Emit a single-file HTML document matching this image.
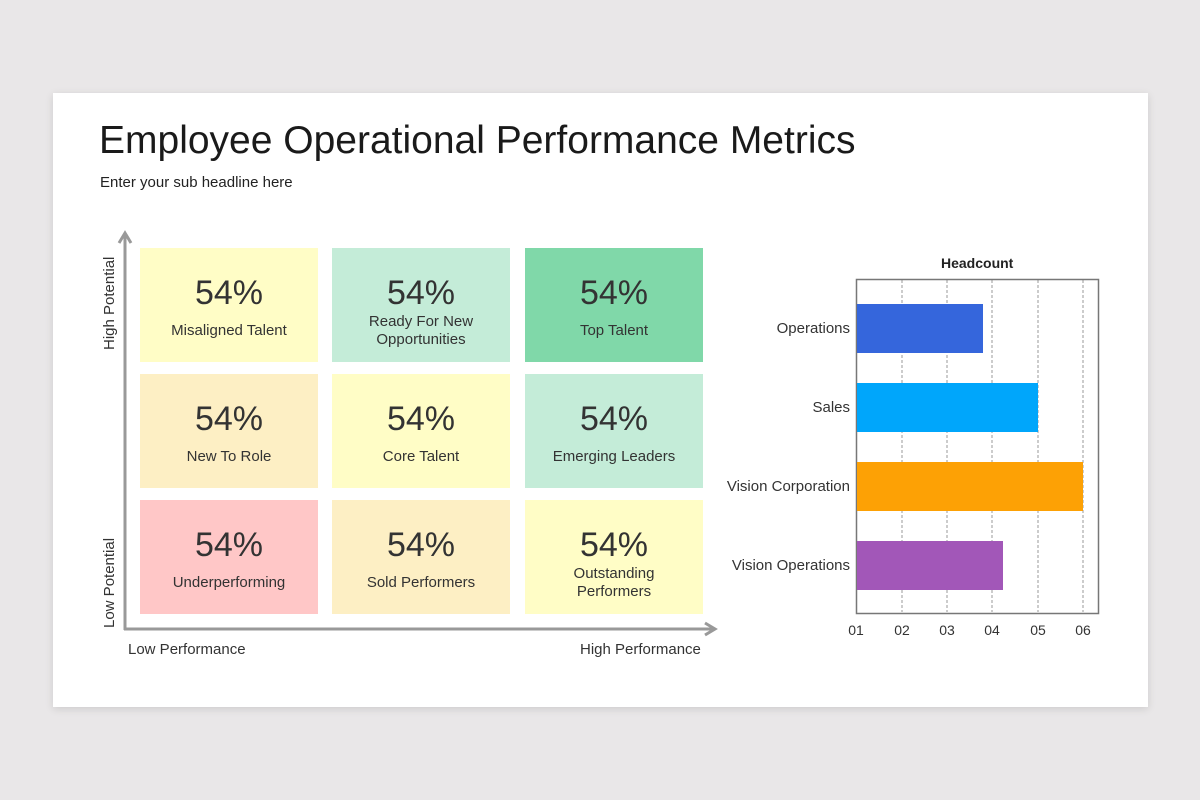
<!DOCTYPE html>
<html><head><style>
body{margin:0;width:1200px;height:800px;background:#e9e7e8;font-family:"Liberation Sans",sans-serif;position:relative;overflow:hidden}
.card{position:absolute;left:53px;top:93px;width:1095px;height:614px;background:#fff;box-shadow:0 2px 8px rgba(0,0,0,.12)}
.t{position:absolute;white-space:nowrap;color:#222}
.cell{position:absolute;width:178px;height:114px;text-align:center;color:#333}
.cell .p{position:absolute;top:27px;left:0;right:0;font-size:34px;line-height:36px}
.cell .l{position:absolute;top:74px;left:0;right:0;font-size:15px;line-height:18px}
.cell .l2{top:65px}
.lab{position:absolute;font-size:15px;color:#333;text-align:right;width:140px;white-space:nowrap}
.tick{position:absolute;top:622px;font-size:14px;color:#333;width:30px;text-align:center}
</style></head><body>
<div class="card"></div>
<div class="t" style="left:99px;top:119px;font-size:39px;color:#1a1a1a">Employee Operational Performance Metrics</div>
<div class="t" style="left:100px;top:174px;font-size:15px">Enter your sub headline here</div>

<svg style="position:absolute;left:0;top:0" width="1200" height="800">
<line x1="125" y1="236" x2="125" y2="630" stroke="#999" stroke-width="3"/>
<polyline points="119,243 125,233 131,243" fill="none" stroke="#999" stroke-width="3"/>
<line x1="124" y1="629" x2="714" y2="629" stroke="#999" stroke-width="3"/>
<polyline points="705,623 715,629 705,635" fill="none" stroke="#999" stroke-width="3"/>
<g stroke="#999" stroke-dasharray="3,2" stroke-width="1">
<line x1="902" y1="280" x2="902" y2="612"/><line x1="947" y1="280" x2="947" y2="612"/>
<line x1="992" y1="280" x2="992" y2="612"/><line x1="1038" y1="280" x2="1038" y2="612"/>
<line x1="1083" y1="280" x2="1083" y2="612"/></g>
<rect x="856.5" y="279.5" width="242" height="334" fill="none" stroke="#777" stroke-width="1.5"/>
<rect x="857" y="304" width="126" height="49" fill="#3566dc"/>
<rect x="857" y="383" width="181" height="49" fill="#00a6fb"/>
<rect x="857" y="462" width="226" height="49" fill="#fda105"/>
<rect x="857" y="541" width="146" height="49" fill="#a257b8"/>
<text x="114" y="350" transform="rotate(-90 114 350)" font-family="Liberation Sans" font-size="15" fill="#333">High Potential</text>
<text x="114" y="628" transform="rotate(-90 114 628)" font-family="Liberation Sans" font-size="15" fill="#333">Low Potential</text>
</svg>

<div class="cell" style="left:140px;top:248px;background:#fffdc6"><div class="p">54%</div><div class="l">Misaligned Talent</div></div>
<div class="cell" style="left:332px;top:248px;background:#c4ecd8"><div class="p">54%</div><div class="l l2">Ready For New<br>Opportunities</div></div>
<div class="cell" style="left:525px;top:248px;background:#80d8a9"><div class="p">54%</div><div class="l">Top Talent</div></div>
<div class="cell" style="left:140px;top:374px;background:#fdefc4"><div class="p">54%</div><div class="l">New To Role</div></div>
<div class="cell" style="left:332px;top:374px;background:#fffdc6"><div class="p">54%</div><div class="l">Core Talent</div></div>
<div class="cell" style="left:525px;top:374px;background:#c4ecd8"><div class="p">54%</div><div class="l">Emerging Leaders</div></div>
<div class="cell" style="left:140px;top:500px;background:#ffc7c7"><div class="p">54%</div><div class="l">Underperforming</div></div>
<div class="cell" style="left:332px;top:500px;background:#fdefc4"><div class="p">54%</div><div class="l">Sold Performers</div></div>
<div class="cell" style="left:525px;top:500px;background:#fffdc6"><div class="p">54%</div><div class="l l2">Outstanding<br>Performers</div></div>

<div class="t" style="left:128px;top:641px;font-size:15px;color:#333">Low Performance</div>
<div class="t" style="left:580px;top:641px;font-size:15px;color:#333">High Performance</div>

<div class="t" style="left:941px;top:255px;font-size:14px;font-weight:bold;color:#222">Headcount</div>
<div class="lab" style="left:710px;top:320px">Operations</div>
<div class="lab" style="left:710px;top:399px">Sales</div>
<div class="lab" style="left:710px;top:478px">Vision Corporation</div>
<div class="lab" style="left:710px;top:557px">Vision Operations</div>
<div class="tick" style="left:841px">01</div><div class="tick" style="left:887px">02</div>
<div class="tick" style="left:932px">03</div><div class="tick" style="left:977px">04</div>
<div class="tick" style="left:1023px">05</div><div class="tick" style="left:1068px">06</div>
</body></html>
